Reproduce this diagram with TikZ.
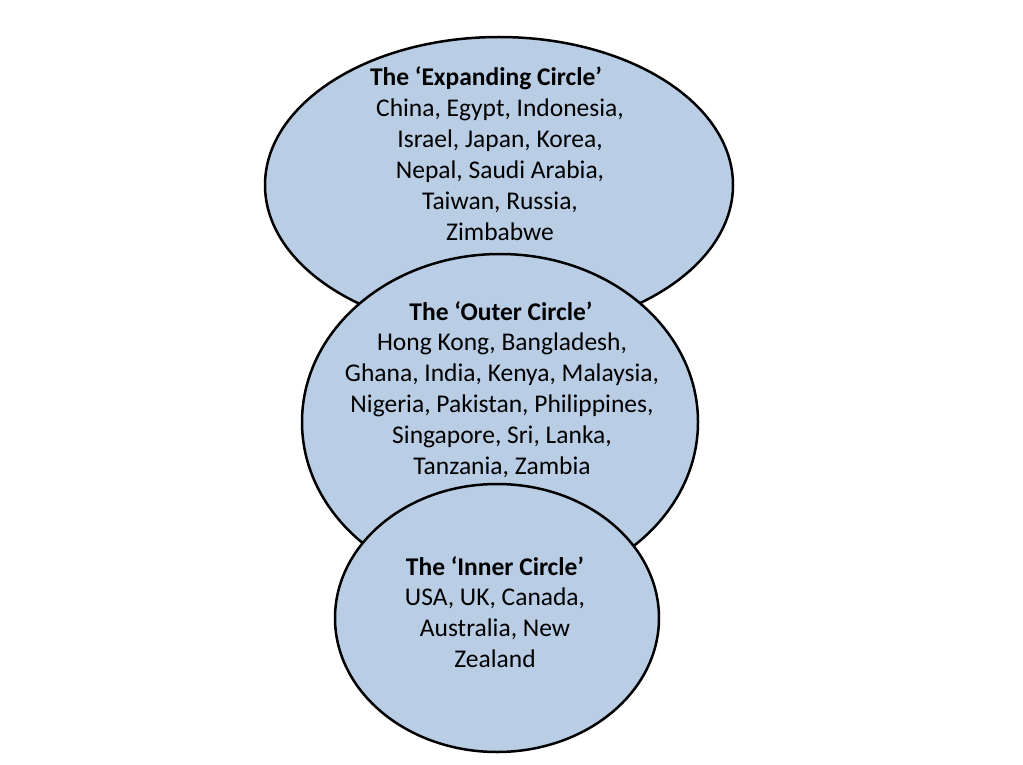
\documentclass[tikz,border=0pt]{standalone}
\usepackage{fontspec}
\setmainfont{Carlito}
\definecolor{cfill}{RGB}{185,205,229}
\begin{document}
\begin{tikzpicture}[x=1pt,y=-1pt,
  circ/.style={draw=black,line width=2.5pt,fill=cfill},
  txt/.style={align=center,font=\fontsize{25.5}{31}\selectfont,inner sep=0pt},
  ttl/.style={font=\fontsize{25.5}{31}\selectfont\bfseries,inner sep=0pt}]
\useasboundingbox (0,0) rectangle (1023,765);
\draw[circ] (499,185) ellipse [x radius=234,y radius=148];
\draw[circ] (500,422) ellipse [x radius=198,y radius=168];
\draw[circ] (497,618) ellipse [x radius=162,y radius=134];
\node[ttl] (t1) at (486,78) {The ‘Expanding Circle’};
\node[txt,anchor=north] (l1) at (500,99) {China, Egypt, Indonesia,\\Israel, Japan, Korea,\\Nepal, Saudi Arabia,\\Taiwan, Russia,\\Zimbabwe};
\node[ttl] (t2) at (501,311) {The ‘Outer Circle’};
\node[txt,anchor=north] (l2) at (502,333) {Hong Kong, Bangladesh,\\Ghana, India, Kenya, Malaysia,\\Nigeria, Pakistan, Philippines,\\Singapore, Sri, Lanka,\\Tanzania, Zambia};
\node[ttl] (t3) at (495,566) {The ‘Inner Circle’};
\node[txt,anchor=north] (l3) at (495,588) {USA, UK, Canada,\\Australia, New\\Zealand};
\end{tikzpicture}
\end{document}
